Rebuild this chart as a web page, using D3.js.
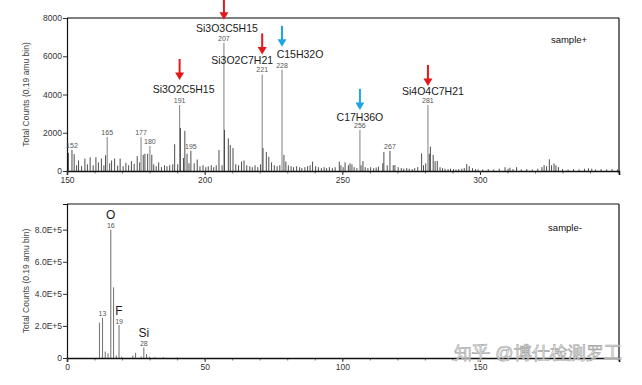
<!DOCTYPE html>
<html><head><meta charset="utf-8">
<script src="https://cdn.jsdelivr.net/npm/d3@7"></script>
<style>body{margin:0;background:#fff}svg{display:block}text{font-family:"Liberation Sans",Arial,sans-serif}</style>
</head><body>
<svg id="c" width="642" height="385"></svg>
<script>
// ---------- DATA ----------
const topXTicks = [150, 200, 250, 300];
const topYTicks = [0, 2000, 4000, 6000, 8000];
const botXTicks = [0, 50, 100, 150];
const botYTicks = [0, 200000, 400000, 600000, 800000];
const botYTickLabels = ["0", "2.0E+5", "4.0E+5", "6.0E+5", "8.0E+5"];
const yTitle = "Total Counts (0.19 amu bin)";
const topSampleName = "sample+";
const botSampleName = "sample-";

// sample+ : tall peaks (grey)
const topMajorPeaks = [[164.6,1780],[176.9,1760],[180.1,1310],[190.9,3450],[207.0,6700],[220.9,5050],[228.1,5290],[256.4,2150],[281.1,3450]];
// sample+ : small peaks (dark)
const topMinorPeaks = [[150.5,950],[151.8,1100],[152.6,880],[153.5,300],[154.2,550],[155.3,250],[156.5,650],[157.4,350],[158.4,720],[159.5,300],[160.5,720],[161.4,450],[162.5,650],[163.4,300],[164.0,820],[165.5,400],[166.2,550],[167.3,650],[168.4,280],[169.3,650],[170.4,250],[171.4,430],[172.4,300],[173.4,520],[174.4,380],[175.5,780],[176.4,450],[177.7,850],[178.3,900],[179.3,900],[180.8,850],[181.5,350],[182.4,250],[183.3,450],[184.3,200],[185.4,300],[186.3,250],[187.3,300],[188.4,350],[189.1,1400],[190.2,350],[191.2,2250],[192.3,680],[192.8,2100],[193.6,900],[194.3,400],[195.0,1060],[196.2,400],[197.3,600],[198.3,250],[199.4,300],[200.4,200],[201.3,250],[202.4,300],[203.3,200],[204.2,300],[205.2,1100],[206.3,300],[207.2,2150],[208.6,1700],[209.3,1360],[210.3,1200],[211.3,350],[212.3,300],[213.4,500],[214.3,550],[215.3,300],[216.4,250],[217.3,200],[218.3,300],[219.3,200],[220.3,350],[221.2,1200],[222.4,1000],[223.3,750],[224.3,450],[225.3,300],[226.3,250],[227.3,300],[228.8,840],[229.5,500],[230.4,300],[231.4,250],[232.3,200],[233.4,250],[234.5,200],[235.3,150],[236.4,200],[237.4,250],[238.3,300],[239.2,490],[240.3,250],[241.3,200],[242.4,150],[243.4,200],[244.3,150],[245.3,200],[246.4,150],[247.4,200],[248.9,490],[249.5,300],[250.3,200],[251.0,450],[252.2,300],[252.8,400],[253.5,350],[254.3,200],[255.3,150],[256.8,300],[257.5,520],[258.3,200],[259.3,150],[260.3,200],[261.4,150],[262.3,180],[263.1,230],[264.7,410],[265.1,1000],[266.3,300],[267.3,1050],[268.5,300],[269.1,310],[270.3,200],[271.4,150],[272.3,120],[273.4,150],[274.3,120],[275.4,100],[276.3,150],[277.4,200],[278.8,920],[279.5,300],[280.3,400],[281.6,900],[282.0,1270],[283.0,840],[283.7,520],[284.5,520],[285.5,200],[286.4,150],[287.3,120],[288.4,100],[289.3,120],[290.4,100],[291.3,80],[292.3,100],[293.4,120],[294.3,150],[295.2,360],[296.1,250],[297.3,150],[298.4,100],[299.3,80],[301,80],[303,100],[305,80],[307,120],[309.1,200],[310.2,120],[310.9,170],[312,100],[313.3,200],[315,80],[317,100],[319,80],[321,120],[322.5,200],[323.3,310],[324.2,250],[325.2,610],[326.0,300],[326.9,400],[327.6,300],[328.5,200],[330,100],[332,80],[334,100],[336,80],[338,120],[339.4,140],[340.6,120],[342,80],[344,100],[346,80],[348,100],[350,80]];

const topPeakLabels = ["152","165","177","180","191","195","207","221","228","256","267","281"];
const topPeakLabelMz = [151.8,164.6,176.9,180.1,190.9,195.0,207.0,220.9,228.1,256.4,267.3,281.1];

const annotFormula = ["Si3O2C5H15","Si3O3C5H15","Si3O2C7H21","C15H32O","C17H36O","Si4O4C7H21"];
const annotMz = [190.9,207.0,220.9,228.1,256.4,281.1];
const annotKind = ["Si","Si","Si","C","C","Si"];

// sample- peaks
const botPeaks = [[11.8,220000],[12.9,250000],[13.9,40000],[14.9,30000],[15.9,800000],[16.9,440000],[17.9,15000],[18.9,205000],[19.9,8000],[23.9,15000],[24.9,32000],[26.9,10000],[27.9,65000],[28.9,25000],[29.9,8000],[31.9,5000],[35.0,4000],[40.0,3000]];
const botPeakLabels = ["13","16","19","28"];
const botPeakLabelMz = [12.9,15.9,18.9,27.9];
const botElements = ["","O","F","Si"];

const watermark = "知乎 @博仕检测罗工";

// ---------- LAYOUT ----------
const svg = d3.select("#c");
const T = {l:67, r:619, t:18, b:171};
const B = {l:67, r:619, t:204, b:358};
const xTop = d3.scaleLinear().domain([150, 350.5]).range([T.l, T.r]);
const yTop = d3.scaleLinear().domain([0, 8000]).range([T.b, T.t]);
const xBot = d3.scaleLinear().domain([0, 200.5]).range([B.l, B.r]);
const yBot = d3.scaleLinear().domain([0, 960000]).range([B.b, B.t]);
const arrowColor = {Si:"#e5171d", C:"#1ea5e6"};
// annotation layout (text centre offset from peak / height above peak top / arrow tip above text centre)
const annotDx = [4, 3, -20, 18, 0, 5];
const annotAbove = [16, 15, 14, 16, 13, 14];
const arrowGap = [9, 8, 6, 7, 7, 5];

function frame(P, topColor, topW) {
  svg.append("line").attr("x1",P.l).attr("x2",P.r).attr("y1",P.t).attr("y2",P.t)
    .attr("stroke",topColor).attr("stroke-width",topW);
  svg.append("line").attr("x1",P.r).attr("x2",P.r).attr("y1",P.t).attr("y2",P.b)
    .attr("stroke","#111").attr("stroke-width",1.2);
}
frame(T, "#555", 1.6);
frame(B, "#888", 2);

function peaks(data, x, y, color, w) {
  svg.append("g").selectAll("line").data(data).join("line")
    .attr("x1", d => x(d[0])).attr("x2", d => x(d[0]))
    .attr("y1", y(0)).attr("y2", d => y(d[1]))
    .attr("stroke", color).attr("stroke-width", w);
}
peaks(topMajorPeaks, xTop, yTop, "#8a8a8a", 1.1);
peaks(topMinorPeaks, xTop, yTop, "#3a3a3a", 0.9);
peaks(botPeaks, xBot, yBot, "#7a7a7a", 1.1);

function axes(P, x, y, xt, xminor, yt, ylab) {
  // y axis
  const ya = d3.axisLeft(y).tickValues(yt).tickSize(4).tickPadding(1)
    .tickFormat((d,i) => ylab ? ylab[i] : d3.format("d")(d));
  const gy = svg.append("g").attr("transform", `translate(${P.l},0)`).call(ya);
  gy.select(".domain").attr("stroke","#111").attr("stroke-width",1.2);
  gy.selectAll(".tick line").attr("stroke","#333");
  gy.selectAll("text").attr("font-size","8.5px").attr("fill","#333");
  // minor x ticks
  const gm = svg.append("g").attr("transform", `translate(0,${P.b})`)
    .call(d3.axisBottom(x).tickValues(xminor).tickSize(2.5).tickFormat(""));
  gm.select(".domain").remove();
  gm.selectAll(".tick line").attr("stroke","#777");
  // x axis
  const xa = d3.axisBottom(x).tickValues(xt).tickSize(4).tickPadding(2).tickFormat(d3.format("d"));
  const gx = svg.append("g").attr("transform", `translate(0,${P.b})`).call(xa);
  gx.select(".domain").attr("stroke","#111").attr("stroke-width",1.6);
  gx.selectAll(".tick line").attr("stroke","#333");
  gx.selectAll("text").attr("font-size","8.5px").attr("fill","#333");
}
axes(T, xTop, yTop, topXTicks, d3.range(160, 351, 10), topYTicks, null);
axes(B, xBot, yBot, botXTicks, d3.range(10, 201, 10), botYTicks, botYTickLabels);

// y titles
[[T,yTitle],[B,yTitle]].forEach(([P,t]) => {
  svg.append("text").attr("transform", `translate(29,${(P.t+P.b)/2}) rotate(-90)`)
    .attr("text-anchor","middle").attr("font-size","8.5px").attr("fill","#444").text(t);
});

// sample names
svg.append("text").attr("x", T.r - 50).attr("y", T.t + 25).attr("text-anchor","middle")
  .attr("font-size","9.5px").attr("fill","#111").text(topSampleName);
svg.append("text").attr("x", B.r - 54).attr("y", B.t + 27).attr("text-anchor","middle")
  .attr("font-size","9.5px").attr("fill","#111").text(botSampleName);

function peakTop(data, mz) {
  return d3.max(data.filter(d => Math.abs(d[0]-mz) < 0.35), d => d[1]);
}
const allTop = topMajorPeaks.concat(topMinorPeaks);

// numeric peak labels (top)
topPeakLabels.forEach((t,i) => {
  const v = peakTop(allTop, topPeakLabelMz[i]);
  svg.append("text").attr("x", xTop(topPeakLabelMz[i])).attr("y", yTop(v) - 2)
    .attr("text-anchor","middle").attr("font-size","7px").attr("fill","#555").text(t);
});

// formula annotations + arrows
annotFormula.forEach((t,i) => {
  const v = peakTop(allTop, annotMz[i]);
  const px = xTop(annotMz[i]);
  const cy = yTop(v) - annotAbove[i];
  svg.append("text").attr("x", px + annotDx[i]).attr("y", cy + 4)
    .attr("text-anchor","middle").attr("font-size","10.5px").attr("fill","#1a1a1a").text(t);
  const tip = cy - arrowGap[i];
  const c = arrowColor[annotKind[i]];
  svg.append("line").attr("x1",px).attr("x2",px).attr("y1",tip-21).attr("y2",tip-6)
    .attr("stroke",c).attr("stroke-width",2);
  svg.append("path").attr("d",`M${px-4.5},${tip-7.5}L${px+4.5},${tip-7.5}L${px},${tip}Z`).attr("fill",c);
});

// bottom labels
botPeakLabels.forEach((t,i) => {
  const v = peakTop(botPeaks, botPeakLabelMz[i]);
  const px = xBot(botPeakLabelMz[i]);
  const by = yBot(v) - 1.5;
  svg.append("text").attr("x", px).attr("y", by).attr("text-anchor","middle")
    .attr("font-size","7px").attr("fill","#555").text(t);
  if (botElements[i]) {
    svg.append("text").attr("x", px).attr("y", by - 9).attr("text-anchor","middle")
      .attr("font-size","12px").attr("fill","#1a1a1a").text(botElements[i]);
  }
});

// watermark
svg.append("text").attr("x", 538).attr("y", 359).attr("text-anchor","middle")
  .attr("font-family","'Noto Sans CJK SC'").attr("font-size","18px")
  .attr("fill","#fff").attr("fill-opacity",0.7).attr("stroke","#a8a8a8").attr("stroke-width",0.7)
  .text(watermark);
</script>
</body></html>
